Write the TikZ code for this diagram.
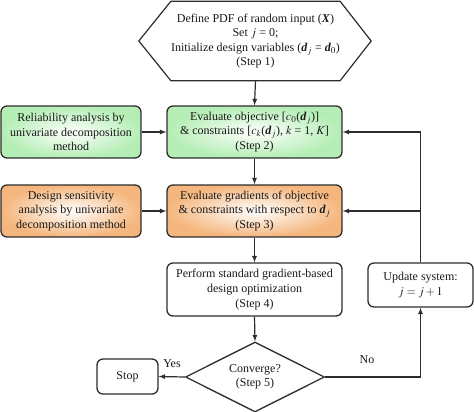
\documentclass[tikz,border=0pt]{standalone}
\usepackage{amsmath}
\usepackage{mathptmx}
\usepackage{fontspec}
\setmainfont{Liberation Serif}
\usepackage{tikz}
\usetikzlibrary{calc}
\usetikzlibrary{shapes.geometric}

\definecolor{relgreen}{RGB}{180,238,180}
\definecolor{sensorange}{RGB}{245,182,125}
\definecolor{linegray}{RGB}{45,45,45}

\newcommand{\bd}[1]{\textbf{\textit{#1}}}

\begin{document}
\begin{tikzpicture}[x=1pt, y=-1pt,
        >=latex,
        every node/.style={font=\fontsize{12}{14.6}\selectfont, text=black!90, align=center},
        flowbox/.style={draw=linegray, line width=1.3pt, rounded corners=6pt, inner sep=1pt},
        greenbox/.style={flowbox, inner color=white, outer color=relgreen},
        orangebox/.style={flowbox, inner color=white, outer color=sensorange},
        flowline/.style={draw=linegray, line width=1.2pt}]
        \useasboundingbox (0,0) rectangle (474,412);

        % start hexagon
        \node[minimum width=165pt, minimum height=79pt, inner sep=0pt] (init) at (255.5,41) {Define PDF of random input (\bd{X})\\Set $j$ = 0;\\Initialize design variables (\bd{d}$_j$ = \bd{d}$_0$)\\(Step 1)};
        \draw[flowline] (init.north west) -- (init.north east) -- ($(init.east)+(31,0)$) -- (init.south east) -- (init.south west) -- ($(init.west)+(-32,0)$) -- cycle;

        % analysis boxes
        \node[greenbox, minimum width=175pt, minimum height=52pt] (eval) at (254.5,132) {Evaluate objective [$c_0$(\bd{d}$_j$)]\\\& constraints [$c_k$(\bd{d}$_j$), $k$ = 1, $K$]\\(Step 2)};
        \node[greenbox, minimum width=140pt, minimum height=52pt] (rel) at (71,132) {Reliability analysis by\\univariate decomposition\\method};
        \node[orangebox, minimum width=175pt, minimum height=52pt] (grad) at (254.5,211) {Evaluate gradients of objective\\\& constraints with respect to \bd{d}$_j$\\(Step 3)};
        \node[orangebox, minimum width=140pt, minimum height=52pt] (sens) at (71,211) {Design sensitivity\\analysis by univariate\\decomposition method};

        % optimization and convergence
        \node[flowbox, minimum width=175pt, minimum height=53pt] (opt) at (254.5,289.5) {Perform standard gradient-based\\design optimization\\(Step 4)};
        \node[draw=linegray, line width=1.3pt, diamond, aspect=2, inner sep=0pt, minimum width=139pt, minimum height=70pt] (conv) at (255,377) {Converge?\\(Step 5)};
        \node[flowbox, minimum width=61pt, minimum height=35pt] (stop) at (127.5,376.5) {Stop};
        \node[flowbox, minimum width=105pt, minimum height=44pt] (upd) at (420.5,285) {Update system:\\$j = j + 1$};

        % connectors
        \draw[flowline, ->] (init.south) -- (eval.north);
        \draw[flowline, ->] (eval.south) -- (grad.north);
        \draw[flowline, ->] (grad.south) -- (opt.north);
        \draw[flowline, ->] (opt.south) -- (conv.north);
        \draw[flowline, ->] (rel.east) -- (eval.west);
        \draw[flowline, ->] (sens.east) -- (grad.west);
        \draw[flowline, ->] (conv.west) -- (stop.east);
        \draw[flowline, ->] (conv.east) -| (upd.south);
        \draw[flowline, ->] (upd.north) |- (eval.east);
        \coordinate (branch) at (upd.north |- grad.east);
        \draw[flowline, ->] (branch) -- (grad.east);

        % labels
        \node (yes) at (172,364) {Yes};
        \node (no) at (367,360) {No};
    \end{tikzpicture}
\end{document}
